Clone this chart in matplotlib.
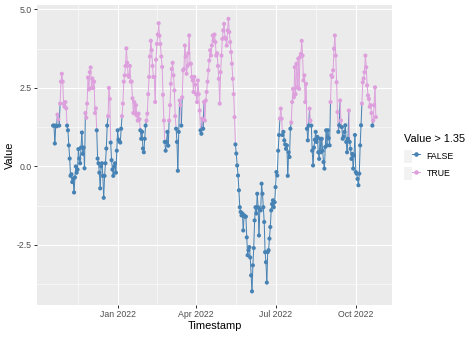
import matplotlib
matplotlib.use('Agg')
import matplotlib.pyplot as plt
import matplotlib.dates as mdates
from matplotlib.collections import LineCollection
from matplotlib.lines import Line2D
from matplotlib.patches import Patch
from matplotlib.legend_handler import HandlerTuple
import numpy as np
import pandas as pd

plt.rcParams['font.family'] = ['Liberation Sans', 'DejaVu Sans']
plt.rcParams['axes.unicode_minus'] = False

# daily series
start_date = '2021-10-19'
values = [
    1.30, 1.30, 0.73, 1.30, 1.28, 1.65, 1.50, 1.30, 2.00, 2.70,
    2.95, 2.70, 2.00, 1.90, 2.05, 1.85, 1.30, 1.15, 0.67, 0.25,
    -0.30, -0.25, -0.50, -0.40, -0.83, -0.35, 0.00, -0.20, -0.10, 0.55,
    0.25, 0.10, 0.60, 1.08, 0.40, 0.60, -0.06, 1.70, 1.55, 2.00,
    2.83, 2.45, 3.00, 3.15, 2.50, 2.80, 2.50, 2.70, 1.70, 1.85,
    1.15, 0.25, 0.10, -0.20, -0.70, 0.00, 0.10, -0.30, -1.00, -0.30,
    0.10, 0.57, 1.30, 1.60, 2.50, 2.15, 0.76, 0.20, -0.10, -0.30,
    0.00, 0.10, -0.20, 0.50, 1.15, 0.85, 0.80, 0.76, 1.20, 1.60,
    2.00, 2.70, 2.90, 3.20, 3.76, 3.30, 2.90, 2.85, 3.20, 2.70,
    2.70, 2.17, 1.70, 2.05, 1.68, 1.95, 1.62, 1.46, 1.68, 1.50,
    1.15, 0.88, 1.10, 0.57, 0.45, 0.88, 1.30, 1.46, 1.68, 2.30,
    2.85, 3.50, 4.00, 3.70, 3.20, 2.85, 2.85, 2.05, 3.40, 3.90,
    4.20, 4.56, 4.16, 3.90, 3.50, 3.17, 2.28, 1.46, 0.78, 0.50,
    0.78, 1.10, 0.66, 1.46, 1.95, 2.63, 3.10, 3.30, 2.90, 2.42,
    1.60, 1.20, 0.78, -0.14, 1.10, 2.10, 1.95, 1.30, 2.20, 3.06,
    3.10, 3.85, 3.50, 2.95, 3.20, 3.60, 4.17, 3.27, 3.27, 2.85,
    2.74, 2.37, 2.85, 2.60, 2.30, 2.05, 2.74, 2.30, 1.78, 1.15,
    1.04, 1.52, 1.20, 2.05, 1.46, 2.10, 2.37, 2.70, 3.06, 3.37,
    3.70, 3.53, 3.85, 4.17, 4.00, 4.20, 3.96, 3.53, 3.60, 3.20,
    2.79, 2.00, 3.00, 3.53, 4.06, 4.33, 4.54, 4.10, 4.06, 3.85,
    4.33, 4.70, 4.28, 3.96, 3.64, 3.27, 2.79, 2.30, 1.57, 0.70,
    0.41, 0.03, -0.29, -0.76, -1.30, -1.45, -1.56, -1.50, -2.04, -1.56,
    -1.60, -1.60, -2.26, -2.83, -2.67, -2.57, -2.90, -3.47, -3.98, -3.15,
    -2.60, -1.72, -1.30, -1.50, -0.87, -1.30, -2.20, -1.37, -1.40, -0.55,
    -0.87, -1.30, -1.77, -2.73, -3.05, -3.70, -2.73, -2.67, -2.30, -1.93,
    -1.40, -1.20, -1.08, -1.30, -1.14, -0.66, -0.18, -0.29, 0.50, 1.00,
    1.52, 1.84, 1.52, 1.00, 1.10, 0.83, 0.70, 0.56, 0.67, -0.30,
    0.45, 0.30, 1.20, 1.40, 2.05, 2.47, 2.20, 3.16, 2.30, 3.27,
    2.52, 3.43, 2.47, 3.48, 3.58, 4.00, 3.53, 2.74, 2.90, 2.05,
    2.63, 1.20, 0.83, 1.30, 1.84, 1.46, 1.30, 0.50, 0.03, 0.60,
    0.85, 1.10, 0.78, 0.94, 0.45, 0.24, 0.88, 0.45, 0.88, 0.50,
    0.14, -0.07, 0.62, 1.15, 0.67, 1.15, 0.90, 0.67, 2.05, 2.90,
    2.85, 3.06, 3.75, 4.17, 3.53, 2.68, 1.73, 1.10, 1.31, 2.10,
    1.46, 1.25, 0.88, 0.95, 1.10, 1.31, 0.78, 0.45, 0.88, 1.78,
    0.78, 0.56, 0.24, 0.40, -0.07, 0.35, 1.00, -0.18, -0.23, -0.40,
    -0.60, -0.23, 0.67, 1.31, 2.00, 2.68, 2.80, 3.00, 3.53, 3.16,
    2.58, 2.26, 2.15, 1.90, 1.95, 1.70, 1.30, 1.46, 1.95, 2.52,
    1.57,
]
threshold = 1.35
group_colors = {False: '#4682B4', True: '#DDA0DD'}
legend_labels = ['FALSE', 'TRUE']
legend_title = 'Value > 1.35'
y_ticks = [-2.5, 0.0, 2.5, 5.0]
x_ticks = ['2022-01-01', '2022-04-01', '2022-07-01', '2022-10-01']

df = pd.DataFrame({'Timestamp': pd.date_range(start_date, periods=len(values), freq='D'),
                   'Value': values})
df['flag'] = df['Value'] > threshold

fig = plt.figure(figsize=(474 / 72, 338 / 72), dpi=72)
ax = fig.add_axes([0.078, 0.0976, 0.749, 0.887])
ax.set_facecolor('#EBEBEB')
for s in ax.spines.values():
    s.set_visible(False)

# line: each segment takes the colour of its starting point (ggplot group = 1)
xs = mdates.date2num(df['Timestamp'])
ys = df['Value'].to_numpy()
segs = np.stack([np.column_stack([xs[:-1], ys[:-1]]), np.column_stack([xs[1:], ys[1:]])], axis=1)
seg_cols = [group_colors[f] for f in df['flag'].iloc[:-1]]
ax.add_collection(LineCollection(segs, colors=seg_cols, linewidths=1.0, zorder=3))

ax.scatter(xs, ys, c=[group_colors[f] for f in df['flag']], s=17, linewidths=0, zorder=4)

major_x = mdates.date2num(pd.to_datetime(x_ticks))
ax.set_xticks(major_x)
ax.xaxis.set_major_formatter(mdates.DateFormatter('%b %Y'))
minor_x = list((major_x[:-1] + major_x[1:]) / 2)
minor_x = [major_x[0] - (major_x[1] - major_x[0]) / 2] + minor_x
ax.set_xticks(minor_x, minor=True)
ax.set_yticks(y_ticks)
ax.set_yticklabels([f'{t:.1f}' for t in y_ticks])
minor_y = [t - 1.25 for t in y_ticks] + [y_ticks[-1] + 1.25]
ax.set_yticks(minor_y, minor=True)

# axis limits with ggplot style 5% expansion (set after ticks)
xr = xs.max() - xs.min()
ax.set_xlim(xs.min() - 0.05 * xr, xs.max() + 0.05 * xr)
yr = ys.max() - ys.min()
ax.set_ylim(ys.min() - 0.05 * yr, ys.max() + 0.05 * yr)

ax.grid(which='major', color='white', linewidth=1.1, zorder=0)
ax.grid(which='minor', color='white', linewidth=0.55, zorder=0)
ax.set_axisbelow(True)
ax.tick_params(which='major', length=2.75, width=1.0, color='#333333',
               labelsize=8.8, labelcolor='#4D4D4D', pad=2.2)
ax.tick_params(which='minor', length=0)

ax.set_xlabel('Timestamp', fontsize=11, color='black', labelpad=2.5)
ax.set_ylabel('Value', fontsize=11, color='black', labelpad=2.5)

handles = [(Patch(facecolor='#F2F2F2', edgecolor='none'),
            Line2D([], [], color=group_colors[k], marker='o', markersize=3.5, linewidth=1.0))
           for k in (False, True)]
leg = fig.legend(handles, legend_labels, title=legend_title, loc='upper left',
                 bbox_to_anchor=(400 / 474, 1 - 130 / 338), frameon=False,
                 fontsize=8.8, title_fontsize=11, handlelength=1.9, handleheight=1.9,
                 labelspacing=0.5, handletextpad=0.7, borderaxespad=0,
                 handler_map={tuple: HandlerTuple(ndivide=None, pad=0)})
leg._legend_box.align = 'left'
leg._legend_box.sep = 6

fig.savefig('out.png', dpi=72)
